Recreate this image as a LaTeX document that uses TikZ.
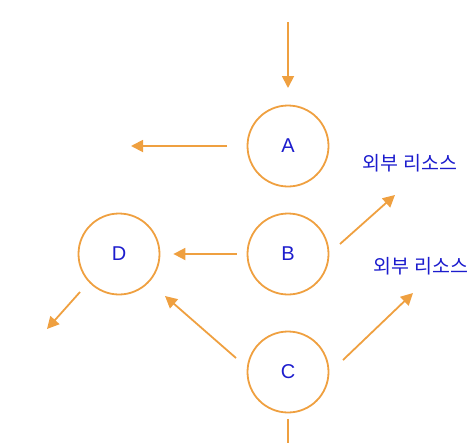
\documentclass[tikz,border=0pt]{standalone}
\usepackage{fontspec}
\setmainfont{Liberation Sans}
\newfontfamily\kr{Noto Sans CJK KR}
\usetikzlibrary{arrows.meta}
\definecolor{org}{RGB}{239,160,64}
\definecolor{blu}{RGB}{28,28,205}
\tikzset{
  circ/.style={circle,draw=org,line width=1.8pt,minimum size=81pt,inner sep=0pt,text=blu,font=\fontsize{20}{20}\selectfont},
  conn/.style={draw=org,line width=1.8pt,-{Triangle[length=12pt,width=12pt]}},
  plain/.style={draw=org,line width=1.8pt},
  lbl/.style={text=blu,font=\kr\fontsize{19.5}{19.5}\selectfont,inner sep=0pt}
}
\begin{document}
\begin{tikzpicture}[x=1pt,y=-1pt]
\useasboundingbox (0,0) rectangle (474,442);
\node[circ] (A) at (288,146) {A};
\node[circ] (B) at (288,254) {B};
\node[circ] (C) at (288,372) {C};
\node[circ] (D) at (119,254) {D};
\node[lbl] (L1) at (410,163) {외부 리소스};
\node[lbl] (L2) at (421,266) {외부 리소스};
\coordinate (t0) at (288,22);
\coordinate (t1) at (288,88);
\coordinate (a0) at (227,146);
\coordinate (a1) at (131,146);
\coordinate (b0) at (340,244);
\coordinate (b1) at (395,195);
\coordinate (c0) at (343,360);
\coordinate (c1) at (413,293);
\coordinate (c2) at (236,358);
\coordinate (c3) at (165,296);
\coordinate (d0) at (80,292);
\coordinate (d1) at (47,329);
\coordinate (e0) at (288,419);
\coordinate (e1) at (288,445);
\draw[conn] (t0) -- (t1);
\draw[conn] (a0) -- (a1);
\draw[conn,shorten <=10pt,shorten >=13pt] (B) -- (D);
\draw[conn] (b0) -- (b1);
\draw[conn] (c0) -- (c1);
\draw[conn] (c2) -- (c3);
\draw[conn] (d0) -- (d1);
\draw[plain] (e0) -- (e1);
\end{tikzpicture}
\end{document}
